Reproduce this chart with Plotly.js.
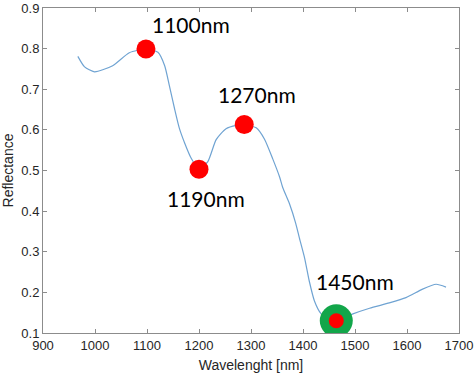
<!DOCTYPE html>
<html>
<head>
<meta charset="utf-8">
<script src="https://cdn.plot.ly/plotly-3.0.1.min.js"></script>
<style>html,body{margin:0;padding:0;background:#fff;}#chart{width:474px;height:374px;}</style>
</head>
<body>
<div id="chart"></div>
<script>
// Spectrum curve
const wavelength = [967, 980, 999, 1034, 1066, 1098, 1121, 1134, 1143, 1153, 1162, 1172, 1185, 1200, 1217, 1233, 1252, 1272, 1287, 1310, 1326, 1342, 1355, 1361, 1374, 1386, 1393, 1403, 1412, 1422, 1435, 1450, 1464, 1480, 1496, 1528, 1566, 1598, 1630, 1656, 1675];
const reflectance = [0.781, 0.755, 0.743, 0.758, 0.790, 0.799, 0.791, 0.758, 0.709, 0.652, 0.605, 0.569, 0.530, 0.503, 0.522, 0.576, 0.603, 0.611, 0.613, 0.605, 0.577, 0.528, 0.484, 0.458, 0.418, 0.370, 0.334, 0.285, 0.228, 0.179, 0.147, 0.133, 0.130, 0.138, 0.147, 0.161, 0.174, 0.187, 0.208, 0.220, 0.213];

// Highlighted bands
const peakX = [1098, 1200, 1287, 1464];
const peakY = [0.799, 0.503, 0.613, 0.130];
const peakLabels = ['1100nm', '1190nm', '1270nm', '1450nm'];
const labelX = [1185, 1214, 1312, 1500];
const labelY = [0.859, 0.432, 0.686, 0.228];

const highlightX = [1464];
const highlightY = [0.130];

const xTicks = [900, 1000, 1100, 1200, 1300, 1400, 1500, 1600, 1700];
const yTicks = [0.1, 0.2, 0.3, 0.4, 0.5, 0.6, 0.7, 0.8, 0.9];

const traces = [
  {x: wavelength, y: reflectance, mode: 'lines', type: 'scatter',
   line: {color: '#6fa3d2', width: 1.2, shape: 'spline', smoothing: 0.6}, hoverinfo: 'skip'},
  {x: highlightX, y: highlightY, mode: 'markers', type: 'scatter',
   marker: {color: '#12a64a', size: 33}},
  {x: peakX.slice(0, 3), y: peakY.slice(0, 3), mode: 'markers', type: 'scatter',
   marker: {color: '#ff0000', size: 19}},
  {x: peakX.slice(3), y: peakY.slice(3), mode: 'markers', type: 'scatter',
   marker: {color: '#ff0000', size: 15}}
];

const annotations = peakLabels.map((t, i) => ({
  x: labelX[i], y: labelY[i], xref: 'x', yref: 'y', text: t, showarrow: false,
  font: {family: 'Lato, "Open Sans", sans-serif', size: 21, color: '#000'}
}));

const axisCommon = {
  showline: true, linecolor: '#8c8c8c', linewidth: 1, mirror: 'ticks',
  ticks: 'inside', ticklen: 4, tickcolor: '#8c8c8c', showgrid: false, zeroline: false,
  ticklabeloverflow: 'allow',
  tickfont: {family: '"Liberation Sans", Arial, sans-serif', size: 13, color: '#262626'}
};

const layout = {
  width: 474, height: 374,
  margin: {l: 43, r: 15, t: 8, b: 41},
  paper_bgcolor: '#fff', plot_bgcolor: '#fff',
  showlegend: false,
  xaxis: Object.assign({}, axisCommon, {
    range: [900, 1700], tickvals: xTicks, ticktext: xTicks.map(String),
    title: {text: 'Wavelenght [nm]', standoff: 8,
      font: {family: '"Liberation Sans", Arial, sans-serif', size: 14, color: '#262626'}}
  }),
  yaxis: Object.assign({}, axisCommon, {
    range: [0.1, 0.9], tickvals: yTicks, ticktext: yTicks.map(v => v.toFixed(1)),
    title: {text: 'Reflectance', standoff: 4,
      font: {family: '"Liberation Sans", Arial, sans-serif', size: 14, color: '#262626'}}
  }),
  annotations: annotations
};

Plotly.newPlot('chart', traces, layout, {displayModeBar: false, staticPlot: true});
</script>
</body>
</html>
